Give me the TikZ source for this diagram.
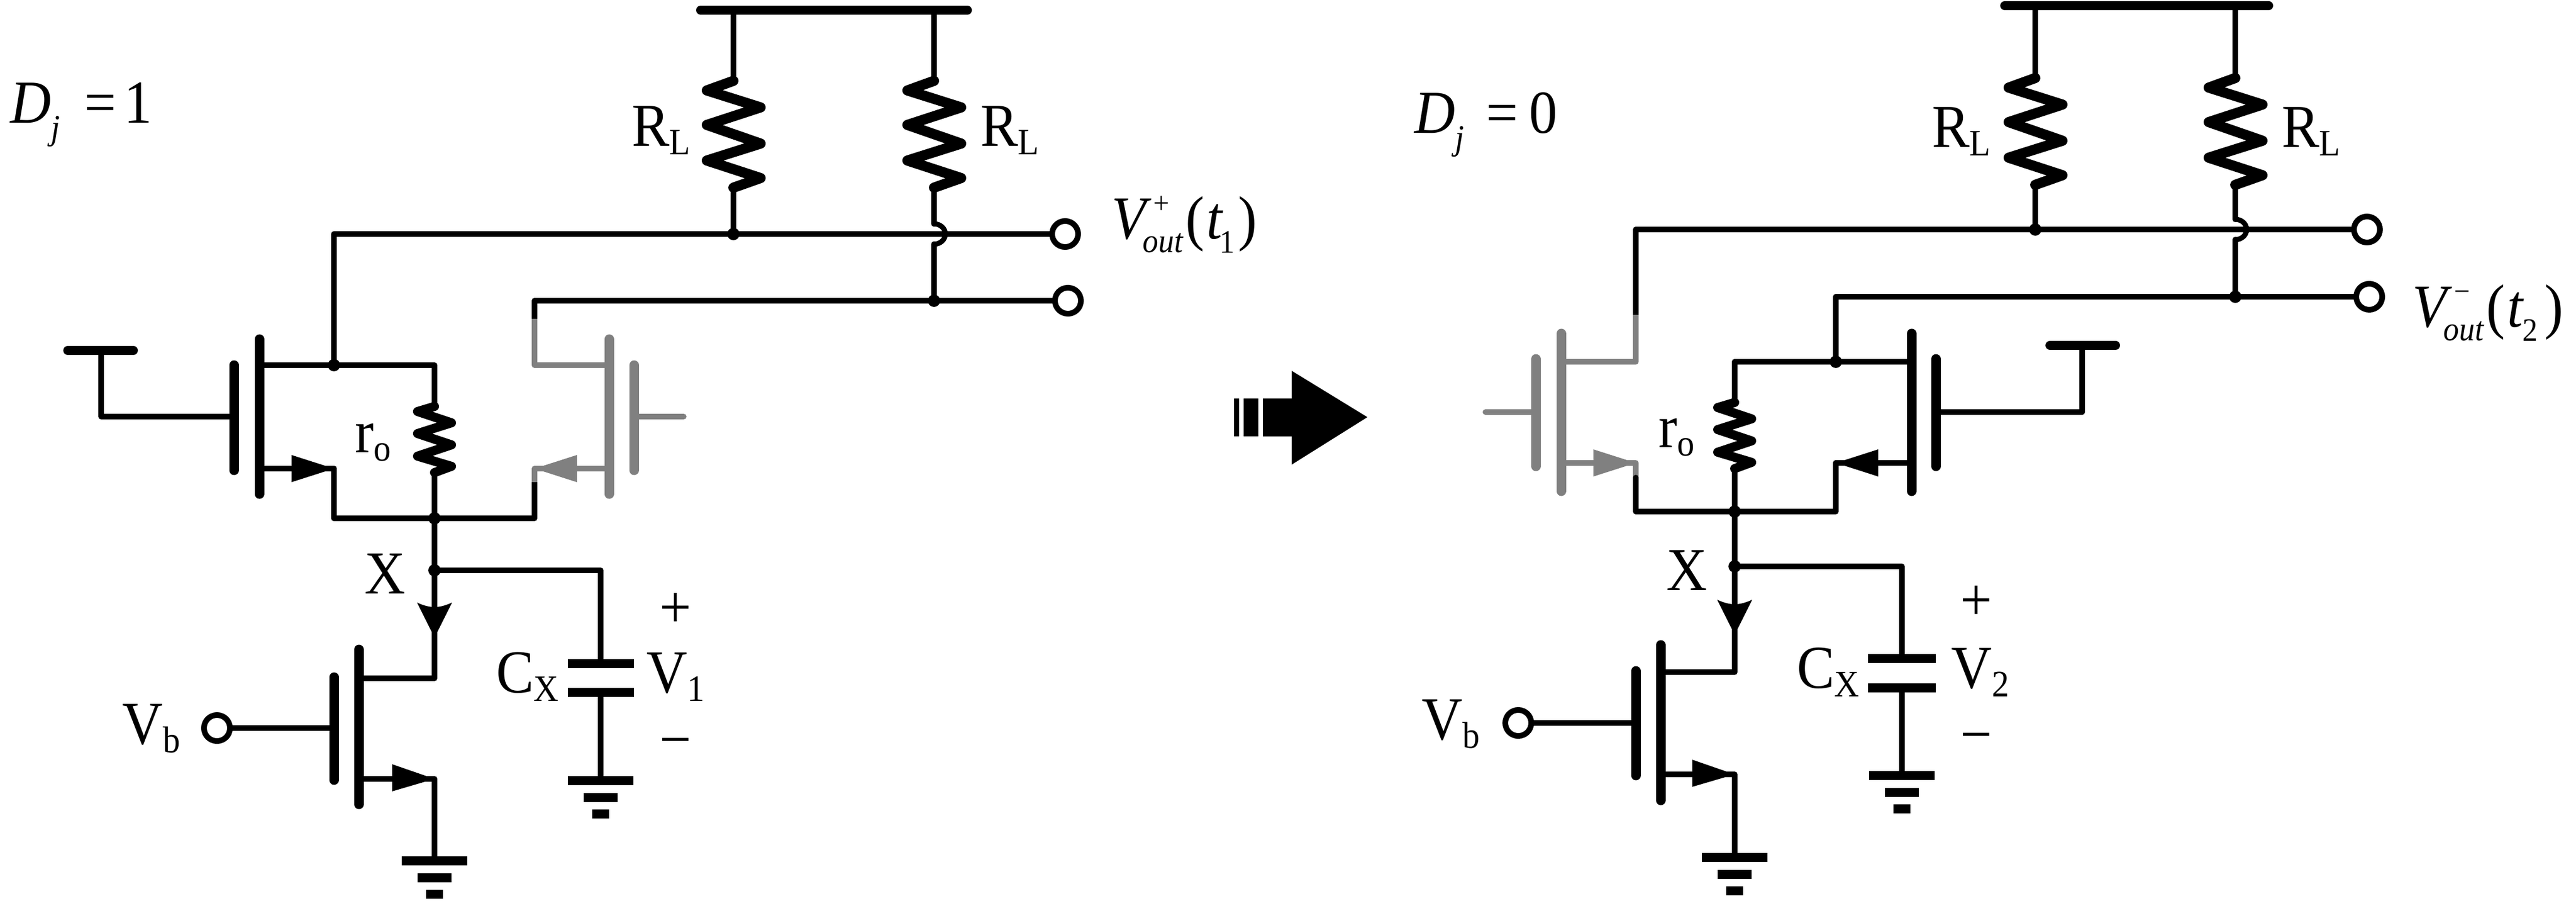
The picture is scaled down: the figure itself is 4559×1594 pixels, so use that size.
\documentclass[tikz,border=0pt]{standalone}
\usepackage{fontspec}
\setmainfont{Liberation Serif}[FakeStretch=0.925]
\newcommand{\sbs}[1]{{\fontsize{66}{66}\selectfont\raisebox{-15pt}{#1}}}
\newcommand{\sbt}[1]{{\fontsize{58}{58}\selectfont\raisebox{-25pt}{#1}}}
\newcommand{\subj}{{\fontsize{62}{62}\selectfont\raisebox{-29pt}{\textit{j}}}}
\newcommand{\vout}[1]{\textit{V}\kern-6pt{\fontsize{60}{60}\selectfont\rlap{\raisebox{-24pt}{\kern-9pt\textit{out}}}\raisebox{45pt}{\kern10pt{\fontsize{54}{54}\selectfont #1}}}}
\definecolor{gray50}{gray}{0.5}
\tikzset{
  wire/.style={line width=10,line cap=round,line join=round},
  heavy/.style={line width=17,line cap=round,line join=round},
  plate/.style={line width=16,line cap=butt},
  zig/.style={line width=18,line cap=round,line join=round},
  off/.style={draw=gray50,color=gray50},
  lbl/.style={anchor=base west,inner sep=0,outer sep=0,font=\fontsize{108}{108}\selectfont},
  sign/.style={anchor=center,inner sep=0,outer sep=0,font=\fontsize{108}{108}\selectfont},
  jdot/.style={circle,fill=black,inner sep=0,minimum size=22},
  term/.style={circle,draw=black,fill=white,line width=10,inner sep=0,outer sep=0,minimum size=46},
  pics/rbig/.style={code={\draw[zig] (0,0)--(-47,17)--(48,47)--(-47,78)--(48,111)--(-47,141)--(48,172)--(0,189);}},
  pics/rsmall/.style={code={\draw[zig,line width=16] (0,0)--(-30,9)--(30,29)--(-30,48)--(30,68)--(-30,88)--(30,106)--(0,117);}},
  pics/gnd/.style={code={
    \draw[plate] (-58,0)--(58,0);
    \draw[plate] (-30,30)--(30,30);
    \draw[plate] (-15,59)--(15,59);}},
  pics/hop/.style={code={\draw[wire,line width=9] (0,-18) arc[start angle=-90,end angle=90,x radius=20,y radius=18];}},
  pics/cur/.style={code={\fill[black] (-31,-62) .. controls (-18,-56) and (-8,-54) .. (0,-54) .. controls (8,-54) and (18,-56) .. (31,-62) -- (0,0) -- cycle;}}
}
\begin{document}
\begin{tikzpicture}[x=1pt,y=-1pt]
\useasboundingbox (0,0) rectangle (4559,1594);
% ---------- left circuit coordinates
\coordinate (aBusL) at (1240,18);
\coordinate (aBusR) at (1712,18);
\coordinate (aRa) at (1298,18);
\coordinate (aRaT) at (1298,143);
\coordinate (aRaB) at (1298,332);
\coordinate (aRb) at (1653,18);
\coordinate (aRbT) at (1653,143);
\coordinate (aRbB) at (1653,332);
\coordinate (aHopT) at (1653,396);
\coordinate (aHopB) at (1653,432);
\coordinate (aHop) at (1653,414);
\coordinate (aW1L) at (591,414);
\coordinate (aW1J) at (1298,414);
\coordinate (aW2L) at (946,532);
\coordinate (aW2J) at (1653,532);
\coordinate (aGrayTop) at (946,564);
\coordinate (aD2) at (946,646);
\coordinate (aD1) at (591,646);
\coordinate (aRoTop) at (769,646);
\coordinate (aRoT) at (769,719);
\coordinate (aRoB) at (769,836);
\coordinate (aS1) at (591,829);
\coordinate (aS2) at (946,829);
\coordinate (aGrayBot) at (946,853);
\coordinate (aTailL) at (591,917);
\coordinate (aTailM) at (769,917);
\coordinate (aTailR) at (946,917);
\coordinate (aX) at (769,1009);
\coordinate (aCt) at (1063,1009);
\coordinate (aCa) at (1063,1174);
\coordinate (aCb) at (1063,1225);
\coordinate (aCg) at (1063,1381);
\coordinate (aDb) at (769,1200);
\coordinate (aSb) at (769,1378);
\coordinate (aGb) at (769,1523);
\coordinate (aCur) at (769,1128);
% ---------- right circuit coordinates
\coordinate (bBusL) at (3548,10);
\coordinate (bBusR) at (4015,10);
\coordinate (bRa) at (3602,10);
\coordinate (bRaT) at (3602,138);
\coordinate (bRaB) at (3602,327);
\coordinate (bRb) at (3956,10);
\coordinate (bRbT) at (3956,138);
\coordinate (bRbB) at (3956,327);
\coordinate (bHopT) at (3956,388);
\coordinate (bHopB) at (3956,424);
\coordinate (bHop) at (3956,406);
\coordinate (bW1L) at (2895,406);
\coordinate (bW1J) at (3602,406);
\coordinate (bW2L) at (3249,525);
\coordinate (bW2J) at (3956,525);
\coordinate (bGrayTop) at (2895,557);
\coordinate (bD1) at (2895,640);
\coordinate (bD2) at (3249,640);
\coordinate (bRoTop) at (3070,640);
\coordinate (bRoT) at (3070,712);
\coordinate (bRoB) at (3070,829);
\coordinate (bS1) at (2895,819);
\coordinate (bS2) at (3249,819);
\coordinate (bGrayBot) at (2895,845);
\coordinate (bTailL) at (2895,905);
\coordinate (bTailM) at (3070,905);
\coordinate (bTailR) at (3249,905);
\coordinate (bX) at (3070,1002);
\coordinate (bCt) at (3366,1002);
\coordinate (bCa) at (3366,1165);
\coordinate (bCb) at (3366,1217);
\coordinate (bCg) at (3366,1372);
\coordinate (bDb) at (3070,1189);
\coordinate (bSb) at (3070,1370);
\coordinate (bGb) at (3070,1517);
\coordinate (bCur) at (3070,1123);
% ---------- terminals
\node[term] (aT1) at (1885,414) {};
\node[term] (aT2) at (1890,532) {};
\node[term] (aTb) at (384,1288) {};
\node[term] (bT1) at (4189,406) {};
\node[term] (bT2) at (4193,525) {};
\node[term] (bTb) at (2687,1279) {};
% ---------- left: supply and loads
\draw[line width=16,line cap=round] (aBusL)--(aBusR);
\draw[wire] (aRa)--(aRaT) (aRb)--(aRbT) (aRaB)--(aW1J) (aRbB)--(aHopT) (aHopB)--(aW2J);
\pic at (aRaT) {rbig};
\pic at (aRbT) {rbig};
\draw[wire] (aD1)--(aW1L)--(aT1);
\pic at (aHop) {hop};
\draw[wire] (aGrayTop)--(aW2L)--(aT2);
% left transistor on
\coordinate (aCh1T) at (459,600);
\coordinate (aCh1B) at (459,874);
\coordinate (aG1T) at (414,646);
\coordinate (aG1B) at (414,832);
\coordinate (aG1M) at (414,737);
\coordinate (aG1L) at (179,737);
\coordinate (aG1U) at (179,620);
\coordinate (aV1L) at (120,620);
\coordinate (aV1R) at (236,620);
\coordinate (aCh1D) at (459,646);
\coordinate (aCh1S) at (459,829);
\draw[heavy] (aCh1T)--(aCh1B);
\draw[heavy] (aG1T)--(aG1B);
\draw[wire] (aG1M)--(aG1L)--(aG1U);
\draw[line width=16,line cap=round] (aV1L)--(aV1R);
\draw[wire] (aCh1D)--(aRoTop)--(aRoT);
\pic at (aRoT) {rsmall};
\draw[wire] (aCh1S)--(aS1);
\fill[black] (aS1)--++(-75,-24)--++(0,48)--cycle;
\draw[wire] (aS1)--(aTailL)--(aTailR)--(aGrayBot);
\draw[wire] (aRoB)--(aTailM)--(aDb)--(635,1200);
% right gray transistor of left circuit
\coordinate (aCh2T) at (1078,600);
\coordinate (aCh2B) at (1078,874);
\coordinate (aG2T) at (1122,646);
\coordinate (aG2B) at (1122,832);
\coordinate (aG2M) at (1122,737);
\coordinate (aG2R) at (1210,737);
\coordinate (aCh2D) at (1078,646);
\coordinate (aCh2S) at (1078,829);
\draw[heavy,off] (aCh2T)--(aCh2B);
\draw[heavy,off] (aG2T)--(aG2B);
\draw[wire,off] (aG2M)--(aG2R);
\draw[wire,off,line cap=butt] (aCh2D)--(aD2)--(aGrayTop);
\draw[wire,off] (aCh2S)--(aS2);
\fill[gray50] (aS2)--++(75,-24)--++(0,48)--cycle;
\draw[wire,off,line cap=butt] (aS2)--(aGrayBot);
% left tail: capacitor, current arrow
\draw[wire] (aX)--(aCt)--(aCa) (aCb)--(aCg);
\draw[plate] (1005,1174)--(1122,1174);
\draw[plate] (1005,1225)--(1122,1225);
\pic at (aCg) {gnd};
\pic at (aCur) {cur};
% left bottom transistor
\coordinate (aCh3T) at (635,1149);
\coordinate (aCh3B) at (635,1423);
\coordinate (aG3T) at (591,1198);
\coordinate (aG3B) at (591,1380);
\coordinate (aG3M) at (591,1288);
\coordinate (aCh3S) at (635,1378);
\draw[heavy] (aCh3T)--(aCh3B);
\draw[heavy] (aG3T)--(aG3B);
\draw[wire] (aG3M)--(aTb);
\draw[wire] (aCh3S)--(aSb)--(aGb);
\fill[black] (aSb)--++(-75,-26)--++(0,48)--cycle;
\pic at (aGb) {gnd};
% junctions left
\node[jdot] (aJ1) at (aW1J) {};
\node[jdot] (aJ2) at (aW2J) {};
\node[jdot] (aJ3) at (aD1) {};
\node[jdot] (aJ4) at (aTailM) {};
\node[jdot] (aJ5) at (aX) {};
% ---------- right: supply and loads
\draw[line width=16,line cap=round] (bBusL)--(bBusR);
\draw[wire] (bRa)--(bRaT) (bRb)--(bRbT) (bRaB)--(bW1J) (bRbB)--(bHopT) (bHopB)--(bW2J);
\pic at (bRaT) {rbig};
\pic at (bRbT) {rbig};
\draw[wire] (bGrayTop)--(bW1L)--(bT1);
\pic at (bHop) {hop};
\draw[wire] (bD2)--(bW2L)--(bT2);
% gray transistor
\coordinate (bCh1T) at (2763,590);
\coordinate (bCh1B) at (2763,869);
\coordinate (bG1T) at (2718,635);
\coordinate (bG1B) at (2718,825);
\coordinate (bG1M) at (2718,729);
\coordinate (bG1L) at (2629,729);
\coordinate (bCh1D) at (2763,640);
\coordinate (bCh1S) at (2763,819);
\draw[heavy,off] (bCh1T)--(bCh1B);
\draw[heavy,off] (bG1T)--(bG1B);
\draw[wire,off] (bG1M)--(bG1L);
\draw[wire,off,line cap=butt] (bCh1D)--(bD1)--(bGrayTop);
\draw[wire,off] (bCh1S)--(bS1);
\fill[gray50] (bS1)--++(-75,-24)--++(0,48)--cycle;
\draw[wire,off,line cap=butt] (bS1)--(bGrayBot);
% on transistor
\coordinate (bCh2T) at (3383,590);
\coordinate (bCh2B) at (3383,869);
\coordinate (bG2T) at (3426,635);
\coordinate (bG2B) at (3426,825);
\coordinate (bG2M) at (3426,729);
\coordinate (bG2R) at (3685,729);
\coordinate (bG2U) at (3685,611);
\coordinate (bV1L) at (3628,611);
\coordinate (bV1R) at (3744,611);
\coordinate (bCh2D) at (3383,640);
\coordinate (bCh2S) at (3383,819);
\draw[heavy] (bCh2T)--(bCh2B);
\draw[heavy] (bG2T)--(bG2B);
\draw[wire] (bG2M)--(bG2R)--(bG2U);
\draw[line width=16,line cap=round] (bV1L)--(bV1R);
\draw[wire] (bCh2D)--(bRoTop)--(bRoT);
\pic at (bRoT) {rsmall};
\draw[wire] (bCh2S)--(bS2);
\fill[black] (bS2)--++(75,-24)--++(0,48)--cycle;
\draw[wire] (bS2)--(bTailR)--(bTailL)--(bGrayBot);
\draw[wire] (bRoB)--(bTailM)--(bDb)--(2939,1189);
% right tail
\draw[wire] (bX)--(bCt)--(bCa) (bCb)--(bCg);
\draw[plate] (3306,1165)--(3426,1165);
\draw[plate] (3306,1217)--(3426,1217);
\pic at (bCg) {gnd};
\pic at (bCur) {cur};
% right bottom transistor
\coordinate (bCh3T) at (2939,1141);
\coordinate (bCh3B) at (2939,1416);
\coordinate (bG3T) at (2895,1187);
\coordinate (bG3B) at (2895,1372);
\coordinate (bG3M) at (2895,1279);
\coordinate (bCh3S) at (2939,1370);
\draw[heavy] (bCh3T)--(bCh3B);
\draw[heavy] (bG3T)--(bG3B);
\draw[wire] (bG3M)--(bTb);
\draw[wire] (bCh3S)--(bSb)--(bGb);
\fill[black] (bSb)--++(-75,-26)--++(0,48)--cycle;
\pic at (bGb) {gnd};
% junctions right
\node[jdot] (bJ1) at (bW1J) {};
\node[jdot] (bJ2) at (bW2J) {};
\node[jdot] (bJ3) at (bD2) {};
\node[jdot] (bJ4) at (bTailM) {};
\node[jdot] (bJ5) at (bX) {};
% ---------- big arrow
\fill[black] (2184,705) rectangle (2193,772);
\fill[black] (2201,705) rectangle (2227,772);
\fill[black] (2235,705)--(2286,705)--(2286,656)--(2420,738)--(2286,822)--(2286,772)--(2235,772)--cycle;
% ---------- labels left
\node[lbl] (aDj) at (18,218) {\textit{D}\subj};
\node[lbl] (aEq) at (149,218) {=\kern14pt 1};
\node[lbl] (aRL1) at (1118,259) {R\sbs{L}};
\node[lbl] (aRL2) at (1735,259) {R\sbs{L}};
\node[lbl] (aro) at (628,800) {r\sbs{o}};
\node[lbl] (aXl) at (645,1050) {X};
\node[sign] (aPl) at (1196,1080) {+};
\node[sign] (aMi) at (1196,1325) {−};
\node[lbl] (aCx) at (878,1225) {C\sbs{X}};
\node[lbl] (aV1) at (1144,1225) {V\sbs{1}};
\node[lbl] (aVb) at (216,1316) {V\sbs{b}};
\node[lbl] (aVo) at (1967,422) {\vout{+}};
\node[lbl] (aVt) at (2098,422) {(\kern4pt\textit{t}\kern-7pt\sbt{1}\kern7pt)};
% ---------- labels right
\node[lbl] (bDj) at (2503,236) {\textit{D}\subj};
\node[lbl] (bEq) at (2630,236) {=\kern20pt 0};
\node[lbl] (bRL1) at (3419,261) {R\sbs{L}};
\node[lbl] (bRL2) at (4038,261) {R\sbs{L}};
\node[lbl] (bro) at (2935,791) {r\sbs{o}};
\node[lbl] (bXl) at (2949,1044) {X};
\node[sign] (bPl) at (3498,1067) {+};
\node[sign] (bMi) at (3498,1316) {−};
\node[lbl] (bCx) at (3180,1217) {C\sbs{X}};
\node[lbl] (bV2) at (3453,1217) {V\sbs{2}};
\node[lbl] (bVb) at (2516,1308) {V\sbs{b}};
\node[lbl] (bVo) at (4269,578) {\vout{−}};
\node[lbl] (bVt) at (4400,578) {(\kern4pt\textit{t}\kern-3pt\sbt{2}\kern13pt)};
\end{tikzpicture}
\end{document}
